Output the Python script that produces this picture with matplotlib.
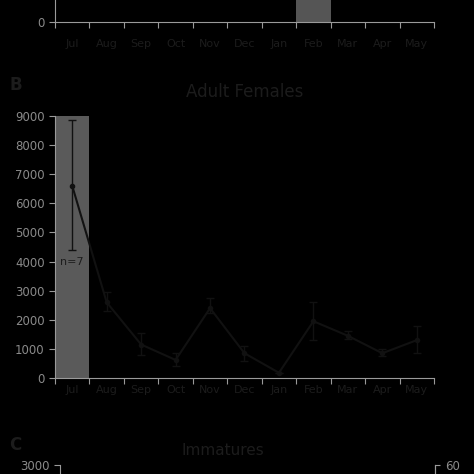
import matplotlib
matplotlib.use("Agg")
import matplotlib.pyplot as plt

months = ["Jul", "Aug", "Sep", "Oct", "Nov", "Dec", "Jan", "Feb", "Mar", "Apr", "May"]
females = [6600, 2600, 1150, 620, 2400, 850, 180, 1950, 1450, 850, 1300]
err_lo = [2200, 300, 370, 200, 150, 250, 0, 650, 100, 100, 450]
err_hi = [2250, 350, 400, 230, 350, 250, 0, 650, 150, 150, 500]
yticks_b = [0, 1000, 2000, 3000, 4000, 5000, 6000, 7000, 8000, 9000]

W = 474
bg = "black"
axc = "#9a9a9a"
txt = "#1c1c1c"
fig = plt.figure(figsize=(4.74, 4.74), dpi=100, facecolor=bg)

def style(ax):
    ax.set_facecolor(bg)
    for s in ["top", "right"]:
        ax.spines[s].set_visible(False)
    for s in ["left", "bottom"]:
        ax.spines[s].set_color(axc)
    ax.tick_params(colors=axc, labelcolor="#8a8a8a", labelsize=8.5, length=4)

x = range(len(months))
x0, x1 = 55 / W, 434 / W

# panel A (only bottom visible)
axa = fig.add_axes([x0, (W - 22) / W, x1 - x0, 0.3])
style(axa)
axa.bar(7, 10, width=1, color="#555555")
axa.set_xlim(-0.5, 10.5)
axa.set_ylim(0, 10)
axa.set_yticks([0])
axa.set_xticks([i - 0.5 for i in range(12)])
axa.set_xticklabels([])
for i, m in enumerate(months):
    axa.text(i, -1.2, m, color=txt, ha="center", va="top", fontsize=8)

# panel B
axb = fig.add_axes([x0, (W - 378) / W, x1 - x0, (378 - 116) / W])
style(axb)
axb.bar(0, 9000, width=1, color="#5a5a5a")
axb.errorbar(x, females, yerr=[err_lo, err_hi], color="#111111", capsize=3,
             lw=1.5, elinewidth=1, marker="o", ms=3)
axb.text(0, 4000, "n=7", color=txt, ha="center", va="center", fontsize=8)
axb.set_xlim(-0.5, 10.5)
axb.set_ylim(0, 9000)
axb.set_yticks(yticks_b)
axb.set_xticks([i - 0.5 for i in range(12)])
axb.set_xticklabels([])
for i, m in enumerate(months):
    axb.text(i, -250, m, color=txt, ha="center", va="top", fontsize=8)
axb.set_title("Adult Females", color=txt, fontsize=12, pad=14)
fig.text(0.02, 0.81, "B", color=txt, fontsize=12, weight="bold")
fig.text(0.02, 0.05, "C", color=txt, fontsize=12, weight="bold")
fig.text(0.47, 0.04, "Immatures", color=txt, fontsize=11, ha="center")

# panel C (top edge only)
axc_ = fig.add_axes([60 / W, -0.5, 375 / W, (W - 465) / W + 0.5])
style(axc_)
axc_.spines["right"].set_visible(True)
axc_.spines["right"].set_color(axc)
axc_.set_ylim(0, 3000)
axc_.set_yticks([3000])
axc_.set_xticks([])
axr = axc_.twinx()
axr.set_ylim(0, 60)
axr.set_yticks([60])
axr.tick_params(colors=axc, labelcolor="#8a8a8a", labelsize=8.5)
for s in ["top", "left", "bottom"]:
    axr.spines[s].set_visible(False)
axr.spines["right"].set_color(axc)

fig.savefig("out.png", dpi=100, facecolor=bg)
